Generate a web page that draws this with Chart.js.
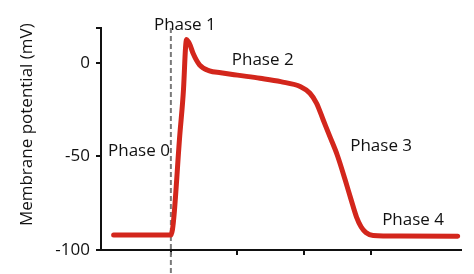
<!DOCTYPE html>
<html>
<head>
<meta charset="utf-8">
<script src="https://cdn.jsdelivr.net/npm/chart.js@4/dist/chart.umd.min.js"></script>
<style>
  html, body { margin: 0; padding: 0; background: #fff; }
  #wrap { width: 474px; height: 274px; }
</style>
</head>
<body>
<div id="wrap"><canvas id="chart"></canvas></div>
<script>
// time (ms) and membrane potential (mV)
var timeMs      = [-86, 0, 14, 19, 22, 23.5, 26, 29, 33.5, 43, 58, 75, 100, 134, 165, 195, 209, 219, 229, 239, 250, 262, 271, 279, 286, 293, 304, 344, 431];
var potentialMv = [-92, -92, -36, -14, 8, 12.5, 11.5, 9.5, 5, -1, -4.2, -5.2, -6.5, -8.2, -10, -12.7, -16.2, -21.6, -30.5, -39.4, -49.2, -62.6, -73.3, -82.4, -87.7, -90.6, -92.2, -92.5, -92.6];

var yTicks = [-100, -50, 0];
var xTicks = [0, 100, 200, 300];
var yMin = -100, yMax = 18.7;
var xMin = -105, xMax = 436;

// phase annotations: text, time, potential (baseline)
var phaseNames = ['Phase 0', 'Phase 1', 'Phase 2', 'Phase 3', 'Phase 4'];
var phaseT     = [-48, 21, 138, 316, 364];
var phaseV     = [-50, 17.6, -1.1, -47.3, -86.6];

var axisTitle = 'Membrane potential (mV)';
var FONT = '"Open Sans", sans-serif';

var curve = timeMs.map(function (t, i) { return {x: t, y: potentialMv[i]}; });
var stimLine = [{x: 0, y: yMax}, {x: 0, y: -113}];

var textPlugin = {
    id: 'phaseText',
    afterDraw: function (chart) {
        var ctx = chart.ctx, sx = chart.scales.x, sy = chart.scales.y;
        ctx.save();
        ctx.fillStyle = '#111';
        ctx.font = '17px ' + FONT;
        ctx.textAlign = 'center';
        ctx.textBaseline = 'alphabetic';
        phaseNames.forEach(function (name, i) {
            ctx.fillText(name, sx.getPixelForValue(phaseT[i]), sy.getPixelForValue(phaseV[i]));
        });
        // y axis title
        ctx.translate(27, sy.getPixelForValue(-33));
        ctx.rotate(-Math.PI / 2);
        ctx.textBaseline = 'middle';
        ctx.fillText(axisTitle, 0, 0);
        ctx.restore();
    }
};

new Chart(document.getElementById('chart').getContext('2d'), {
    type: 'line',
    data: {
        datasets: [
            {
                data: curve,
                borderColor: '#d3261c',
                borderWidth: 5,
                borderCapStyle: 'round',
                borderJoinStyle: 'round',
                cubicInterpolationMode: 'monotone',
                pointRadius: 0,
                fill: false
            },
            {
                data: stimLine,
                borderColor: '#7a7a7a',
                borderWidth: 2,
                borderDash: [5, 3],
                pointRadius: 0,
                fill: false,
                clip: false
            }
        ]
    },
    options: {
        responsive: true,
        maintainAspectRatio: false,
        animation: false,
        layout: {padding: {top: 28, right: 13, left: 0, bottom: 0}},
        plugins: {legend: {display: false}, tooltip: {enabled: false}},
        scales: {
            x: {
                type: 'linear',
                min: xMin,
                max: xMax,
                afterBuildTicks: function (scale) { scale.ticks = xTicks.map(function (v) { return {value: v}; }); },
                afterFit: function (scale) { scale.height = 24; },
                ticks: {display: false},
                grid: {drawOnChartArea: false, drawTicks: true, tickLength: 5, color: '#111', lineWidth: 2},
                border: {display: true, color: '#111', width: 2}
            },
            y: {
                type: 'linear',
                min: yMin,
                max: yMax,
                afterBuildTicks: function (scale) {
                    scale.ticks = yTicks.concat([yMax]).map(function (v) { return {value: v}; });
                },
                afterFit: function (scale) { scale.width = 101; },
                ticks: {
                    padding: 6,
                    color: '#111',
                    font: {family: FONT, size: 17},
                    callback: function (v) { return yTicks.indexOf(v) >= 0 ? String(v) : ''; }
                },
                grid: {drawOnChartArea: false, drawTicks: true, tickLength: 5, color: '#111', lineWidth: 2},
                border: {display: true, color: '#111', width: 2}
            }
        }
    },
    plugins: [textPlugin]
});
</script>
</body>
</html>
